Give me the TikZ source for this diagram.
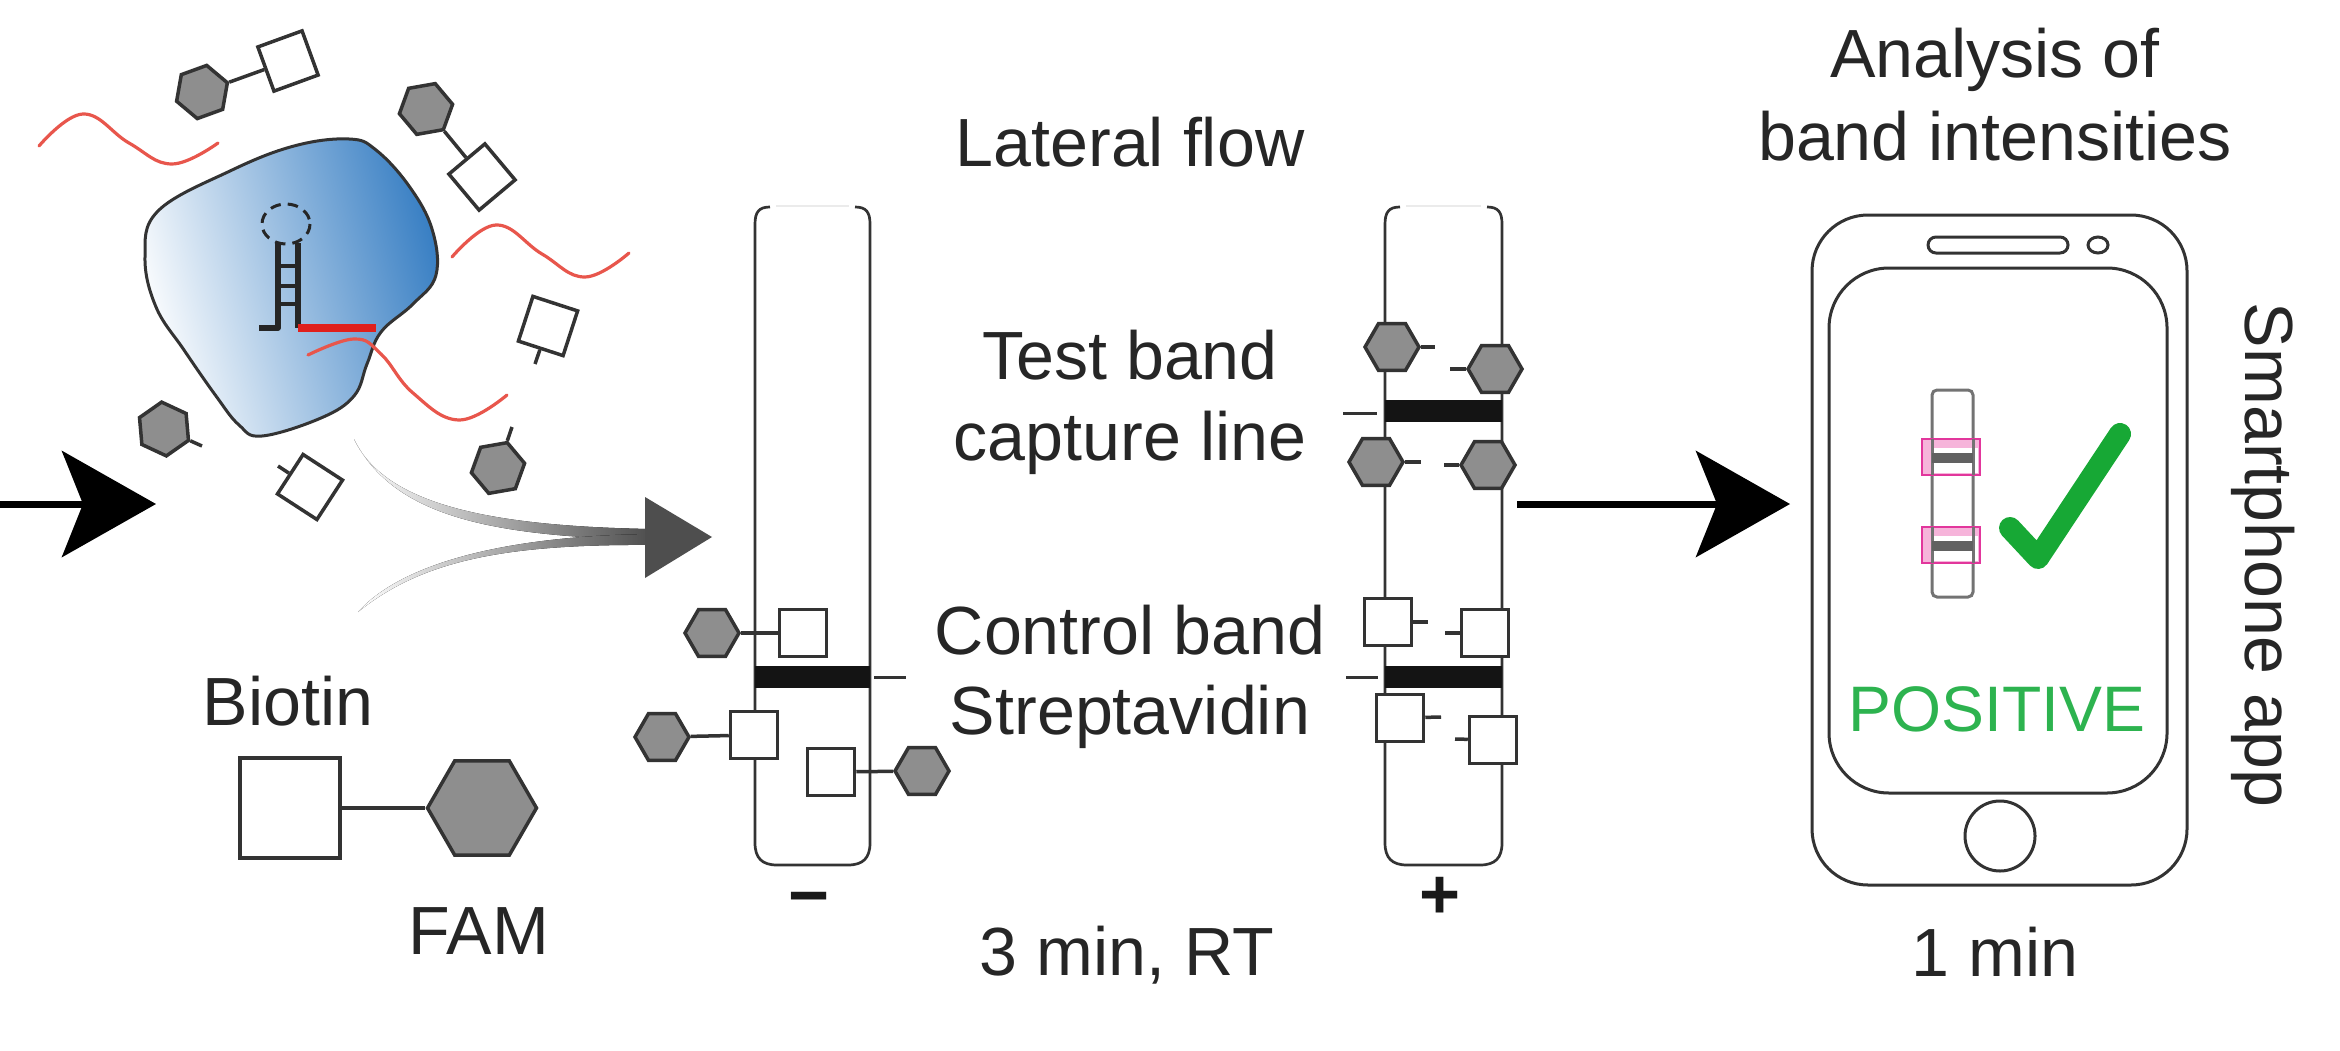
\documentclass[tikz,border=0pt]{standalone}
\usepackage{fontspec}
\setmainfont{Liberation Sans}
\usetikzlibrary{shapes.geometric,arrows.meta}
\definecolor{inkgray}{HTML}{333333}
\definecolor{hexgray}{HTML}{8E8E8E}
\definecolor{strand}{HTML}{E8564C}
\definecolor{cutred}{HTML}{E0201C}
\definecolor{enzyme}{HTML}{3A80C4}
\definecolor{arrowgray}{HTML}{4E4E4E}
\definecolor{okgreen}{HTML}{17A835}
\definecolor{postext}{HTML}{2DB34F}
\definecolor{boxpink}{HTML}{E2369C}
\definecolor{softpink}{HTML}{F6B4DA}
\tikzset{
  x=0.1mm,y=-0.1mm,
  hexa/.style={regular polygon,regular polygon sides=6,minimum size=5.4mm,inner sep=0pt,draw=inkgray,fill=hexgray,line width=0.35mm},
  sq/.style={rectangle,minimum size=4.7mm,inner sep=0pt,draw=inkgray,fill=white,line width=0.35mm},
  link/.style={draw=inkgray,line width=0.35mm},
  rna/.style={draw=strand,line width=0.32mm,line cap=round},
  stripline/.style={draw=inkgray,line width=0.27mm},
  band/.style={fill=black!92},
  tick/.style={draw=inkgray,line width=0.3mm},
  phoneline/.style={draw=inkgray,line width=0.3mm},
  label/.style={font=\fontsize{19.4pt}{23pt}\selectfont,text=black!85,inner sep=0pt,align=center},
  signmark/.style={font=\fontsize{20pt}{20pt}\selectfont\bfseries,inner sep=0pt,text=black!90},
  bigarrow/.style={draw=black,line width=0.7mm,-{Stealth[length=9.4mm,width=10.6mm,inset=2.1mm]}},
}
\begin{document}
\begin{tikzpicture}
\useasboundingbox (0,0) rectangle (2340,1050);

% enzyme body with the hairpin guide
\path[draw=inkgray,line width=0.3mm,left color=white,right color=enzyme,shading angle=105]
  plot[smooth cycle,tension=0.65] coordinates {(158,211) (230,171) (294,146) (349,139) (376,150) (409,186) (432,229) (436,275) (413,304) (381,332) (367,364) (354,396) (321,418) (262,436) (239,425) (216,396) (184,350) (156,307) (145,257)};
\draw[draw=black!85,line width=0.3mm,densely dashed] (286,224) ellipse [x radius=24,y radius=20];
\draw[draw=black!85,line width=0.55mm,line join=round] (259,328) -- (278,328) -- (278,243);
\draw[draw=black!85,line width=0.55mm] (298,243) -- (298,328);
\foreach \ry in {266,286,304} \draw[draw=black!85,line width=0.35mm] (278,\ry) -- (298,\ry);
\draw[draw=cutred,line width=0.8mm] (298,328) -- (376,328);

% cleaved and free reporter strands
\draw[rna] plot[smooth,tension=0.7] coordinates {(39,146) (83,114) (129,143) (172,164) (218,143)};
\draw[rna] plot[smooth,tension=0.7] coordinates {(452,257) (496,225) (542,254) (585,277) (629,253)};
\draw[rna] plot[smooth,tension=0.7] coordinates {(308,355) (354,339) (381,354) (413,393) (459,420) (507,395)};

% intact reporters
\node[hexa,rotate=20] (ha) at (202,92) {};
\node[sq,rotate=20] (sa) at (288,61) {};
\draw[link] (ha) -- (sa);
\node[hexa,rotate=-50] (hb) at (426,109) {};
\node[sq,rotate=-50] (sb) at (482,177) {};
\draw[link] (hb) -- (sb);

% cleaved reporter fragments
\node[sq,rotate=-18] (sc) at (548,326) {};
\coordinate (sce) at (535,364);
\draw[link] (sc) -- (sce);
\node[hexa,rotate=-25] (hd) at (164,429) {};
\coordinate (hde) at (202,446);
\draw[link] (hd) -- (hde);
\node[sq,rotate=-33] (se) at (310,487) {};
\coordinate (see) at (278,466);
\draw[link] (se) -- (see);
\node[hexa,rotate=70] (hf) at (498,468) {};
\coordinate (hfe) at (512,427);
\draw[link] (hf) -- (hfe);

% process arrows
\coordinate (a1s) at (0,504);
\coordinate (a1e) at (156,504);
\draw[bigarrow] (a1s) -- (a1e);
\coordinate (a2s) at (1517,504);
\coordinate (a2e) at (1790,504);
\draw[bigarrow] (a2s) -- (a2e);

% merging grey arrow fading out towards its tails
\fill[left color=white,right color=arrowgray]
  (354,439) .. controls (385,505) and (490,526) .. (650,529) -- (650,540) .. controls (500,536) and (395,520) .. (354,439) -- cycle;
\fill[left color=white,right color=arrowgray]
  (358,612) .. controls (400,565) and (500,536) .. (650,534) -- (650,545) .. controls (500,544) and (420,562) .. (358,612) -- cycle;
\fill[arrowgray] (645,497) -- (712,537) -- (645,578) -- cycle;

% legend reporter
\node[sq,minimum size=10mm] (lsq) at (290,808) {};
\node[hexa,minimum size=10.9mm] (lhex) at (482,808) {};
\draw[link] (lsq) -- (lhex);
\node[label] (tbiotin) at (288,701) {Biotin};
\node[label] (tfam) at (479,931) {FAM};

% negative strip
\draw[stripline] (770,207) .. controls (759,207) and (755,212) .. (755,224) -- (755,843) .. controls (755,858) and (762,865) .. (777,865) -- (848,865) .. controls (863,865) and (870,858) .. (870,843) -- (870,224) .. controls (870,212) and (866,207) .. (855,207);
\draw[black!8,line width=0.2mm] (776,206) -- (849,206);
\fill[band] (755,666) rectangle (870,688);
\coordinate (n1a) at (874,677);
\coordinate (n1b) at (906,677);
\draw[tick] (n1a) -- (n1b);
\node[hexa] (nh1) at (712,633) {};
\node[sq] (ns1) at (803,633) {};
\draw[link] (nh1) -- (ns1);
\node[hexa] (nh2) at (662,737) {};
\node[sq] (ns2) at (754,735) {};
\draw[link] (nh2) -- (ns2);
\node[sq] (ns3) at (831,772) {};
\node[hexa] (nh3) at (922,771) {};
\draw[link] (ns3) -- (nh3);
\node[signmark] (tminus) at (809,906) {−};

% positive strip
\draw[stripline] (1400,207) .. controls (1389,207) and (1385,212) .. (1385,224) -- (1385,843) .. controls (1385,858) and (1392,865) .. (1407,865) -- (1480,865) .. controls (1495,865) and (1502,858) .. (1502,843) -- (1502,224) .. controls (1502,212) and (1498,207) .. (1487,207);
\draw[black!8,line width=0.2mm] (1406,206) -- (1481,206);
\fill[band] (1385,400) rectangle (1502,422);
\fill[band] (1385,666) rectangle (1502,688);
\coordinate (p1a) at (1343,413);
\coordinate (p1b) at (1377,413);
\draw[tick] (p1a) -- (p1b);
\coordinate (p2a) at (1346,677);
\coordinate (p2b) at (1378,677);
\draw[tick] (p2a) -- (p2b);
% FAM ends held at the test band
\node[hexa] (ph1) at (1392,347) {};
\coordinate (ph1e) at (1435,347);
\draw[link] (ph1) -- (ph1e);
\node[hexa] (ph2) at (1495,369) {};
\coordinate (ph2e) at (1450,369);
\draw[link] (ph2) -- (ph2e);
\node[hexa] (ph3) at (1376,462) {};
\coordinate (ph3e) at (1421,462);
\draw[link] (ph3) -- (ph3e);
\node[hexa] (ph4) at (1488,465) {};
\coordinate (ph4e) at (1444,465);
\draw[link] (ph4) -- (ph4e);
% biotin ends held at the control band
\node[sq] (ps1) at (1388,622) {};
\coordinate (ps1e) at (1428,622);
\draw[link] (ps1) -- (ps1e);
\node[sq] (ps2) at (1485,633) {};
\coordinate (ps2e) at (1445,633);
\draw[link] (ps2) -- (ps2e);
\node[sq] (ps3) at (1400,718) {};
\coordinate (ps3e) at (1441,717);
\draw[link] (ps3) -- (ps3e);
\node[sq] (ps4) at (1493,740) {};
\coordinate (ps4e) at (1455,739);
\draw[link] (ps4) -- (ps4e);
\node[signmark] (tplus) at (1440,898) {+};

% centre labels
\node[label] (tflow) at (1130,142) {Lateral flow};
\node[label] (ttest) at (1130,355) {Test band};
\node[label] (tcap) at (1130,443) {capture line};
\node[label] (tctrl) at (1130,630) {Control band};
\node[label] (tstrep) at (1130,717) {Streptavidin};
\node[label] (ttime) at (1127,955) {3 min, RT};

% smartphone
\draw[phoneline,rounded corners=5.6mm] (1812,215) rectangle (2187,885);
\draw[phoneline,rounded corners=6mm] (1829,268) rectangle (2167,793);
\draw[phoneline,rounded corners=0.8mm] (1928,237) rectangle (2068,253);
\draw[phoneline] (2098,245) ellipse [x radius=10,y radius=8];
\draw[phoneline] (2000,836) circle [radius=35];

% miniature strip on the screen
\draw[draw=black!55,line width=0.3mm,rounded corners=0.5mm] (1932,390) rectangle (1973,597);
\foreach \by in {439,527}{
  \fill[softpink] (1922,\by) rectangle (1980,\by+36);
  \fill[white] (1934,\by+9) rectangle (1978,\by+34);
  \draw[boxpink,line width=0.25mm] (1922,\by) rectangle (1980,\by+36);
  \draw[black!55,line width=0.3mm] (1932,\by) -- (1932,\by+36) (1973,\by) -- (1973,\by+36);
  \fill[black!62] (1932,\by+14) rectangle (1973,\by+24);
}
\draw[okgreen,line width=2.2mm,line cap=round,line join=round] (2010,528) -- (2038,558) -- (2120,434);
\node[font=\fontsize{18.3pt}{22pt}\selectfont,text=postext,inner sep=0pt] (tpos) at (1997,709) {POSITIVE};

% labels around the phone
\node[label] (tana) at (1995,60) {Analysis of};
\node[label] (tint) at (1995,136) {band intensities};
\node[label] (tmin) at (1995,952) {1 min};
\node[label,rotate=-90] (tapp) at (2263,555) {Smartphone app};
\end{tikzpicture}
\end{document}
